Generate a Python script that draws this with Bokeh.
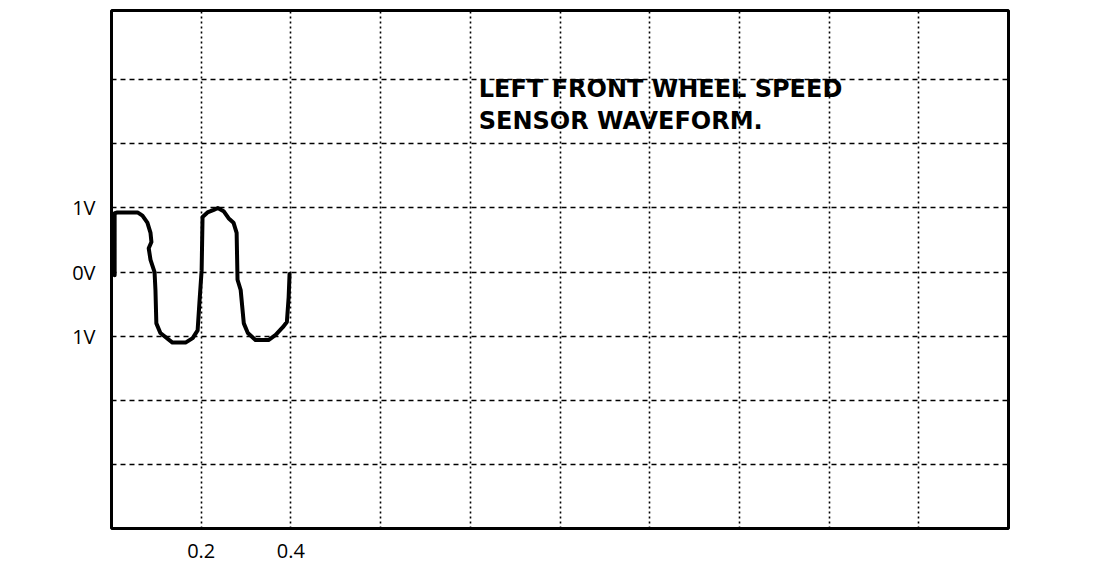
from bokeh.plotting import figure
from bokeh.models import FixedTicker, Label, Range1d
from bokeh.embed import file_html
from bokeh.resources import INLINE

# waveform samples (time, volts)
time_s = [0.007, 0.007, 0.013, 0.058, 0.069, 0.080, 0.087, 0.089, 0.083, 0.087,
          0.096, 0.098, 0.100, 0.109, 0.136, 0.165, 0.181, 0.192, 0.196, 0.201,
          0.203, 0.214, 0.228, 0.237, 0.250, 0.261, 0.272, 0.279, 0.281, 0.288,
          0.295, 0.304, 0.321, 0.350, 0.366, 0.382, 0.391, 0.395, 0.397]
volts = [-0.05, 0.92, 0.93, 0.93, 0.88, 0.77, 0.61, 0.47, 0.37, 0.19,
         0.0, -0.28, -0.80, -0.95, -1.10, -1.10, -1.03, -0.91, -0.48, 0.03,
         0.86, 0.93, 0.97, 1.0, 0.95, 0.84, 0.77, 0.61, -0.12, -0.28,
         -0.80, -0.95, -1.06, -1.06, -0.98, -0.86, -0.78, -0.39, -0.03]

x_tick_values = [0.2, 0.4]
x_tick_labels = ["0.2", "0.4"]
y_tick_values = [1, 0, -1]
y_tick_labels = ["1V", "0V", "1V"]
x_grid_values = [0.2, 0.4, 0.6, 0.8, 1.0, 1.2, 1.4, 1.6, 1.8]
y_grid_values = [-3, -2, -1, 0, 1, 2, 3]
title_lines = ["LEFT FRONT WHEEL SPEED", "SENSOR WAVEFORM."]

p = figure(output_backend="svg", toolbar_location=None,
           frame_width=897, frame_height=518,
           min_border_left=111, min_border_right=60,
           min_border_top=10, min_border_bottom=44,
           x_range=Range1d(0, 2.0), y_range=Range1d(-4, 4.08))

p.background_fill_color = "white"
p.border_fill_color = "white"
p.outline_line_color = "black"
p.outline_line_width = 3
p.outline_line_alpha = 1.0

font = "Open Sans"
for ax in (p.xaxis[0], p.yaxis[0]):
    ax.axis_line_color = None
    ax.major_tick_line_color = None
    ax.minor_tick_line_color = None
    ax.major_label_text_font = font
    ax.major_label_text_font_size = "20px"
    ax.major_label_text_color = "black"

p.xaxis[0].ticker = FixedTicker(ticks=x_tick_values)
p.xaxis[0].major_label_overrides = dict(zip(x_tick_values, x_tick_labels))
p.xaxis[0].major_label_standoff = 9
p.yaxis[0].ticker = FixedTicker(ticks=y_tick_values)
p.yaxis[0].major_label_overrides = dict(zip(y_tick_values, y_tick_labels))
p.yaxis[0].major_label_standoff = 10

p.xgrid[0].ticker = FixedTicker(ticks=x_grid_values)
p.xgrid[0].grid_line_color = "black"
p.xgrid[0].grid_line_width = 1.6
p.xgrid[0].grid_line_dash = "2 3"
p.ygrid[0].ticker = FixedTicker(ticks=y_grid_values)
p.ygrid[0].grid_line_color = "black"
p.ygrid[0].grid_line_width = 1.4
p.ygrid[0].grid_line_dash = "5 4"

p.line(time_s, volts, line_color="black", line_width=4,
       line_join="round", line_cap="round")

for i, t in enumerate(title_lines):
    p.add_layout(Label(x=0.819, y=3.0 - i * 0.5, text=t,
                       text_font="DejaVu Sans", text_font_style="bold",
                       text_font_size="24px", text_baseline="top",
                       text_color="black", y_offset=5))

open("out.html", "w").write(file_html(p, INLINE))
